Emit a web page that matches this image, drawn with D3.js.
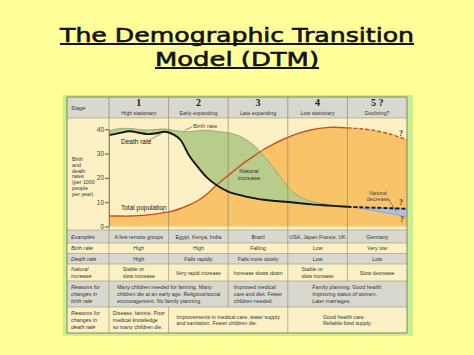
<!DOCTYPE html>
<html>
<head>
<meta charset="utf-8">
<script src="https://cdn.jsdelivr.net/npm/d3@7"></script>
<style>
  body { margin: 0; background: #ffff99; }
  svg { display: block; }
</style>
</head>
<body>
<svg id="dtm" width="474" height="355"></svg>
<script>
// ---- data ----
const titleLines = ["The Demographic Transition", "Model (DTM)"]
const stageNumbers = ["1", "2", "3", "4", "5 ?"]
const stageNames = ["High stationary", "Early expanding", "Late expanding", "Low stationary", "Declining?"]
const rateTicks = [0, 10, 20, 30, 40]
const axisLabel = ["Birth", "and", "death", "rates", "(per 1000", "people", "per year)"]

// position along the model, in stages (0 = start of stage 1, 5 = end of stage 5)
const stagePos = [0, 0.15, 0.35, 0.5, 0.65, 0.8, 0.95, 1.1, 1.2, 1.35, 1.5, 1.65, 1.8, 2.0, 2.15,
  2.3, 2.45, 2.6, 2.75, 2.9, 3.05, 3.2, 3.4, 3.7, 4.0, 4.2, 4.5, 4.75, 5.0]
const birthRate = [39.4, 40.2, 40.4, 39.9, 39.7, 40.0, 40.1, 39.5, 39.2, 39.0, 39.4, 39.6, 39.1, 38.6, 37.6,
  35.8, 33.0, 29.0, 24.5, 19.5, 15.0, 12.2, 10.3, 9.0, 8.2, 7.6, 6.3, 5.2, 4.0]
const deathRate = [37.6, 38.3, 39.2, 38.6, 38.0, 38.4, 39.0, 37.6, 35.6, 29.0, 24.2, 20.0, 17.1, 14.4, 13.2,
  12.3, 11.6, 11.0, 10.6, 10.3, 10.0, 9.6, 9.1, 8.6, 8.1, 7.9, 7.7, 7.5, 7.3]
// total population drawn against the same vertical scale
const populationIndex = [4.3, 4.3, 4.3, 4.5, 4.8, 5.2, 5.8, 6.6, 7.4, 8.9, 10.8, 13.5, 17.0, 21.0, 24.0,
  26.8, 29.3, 31.8, 33.8, 35.6, 37.2, 38.5, 39.8, 40.8, 40.6, 40.3, 39.3, 37.8, 35.6]
const projectedFrom = 4.0 // stage 5 is dashed (uncertain)

const rowLabels = [
  ["Examples"], ["Birth rate"], ["Death rate"], ["Natural", "increase"],
  ["Reasons for", "changes in", "birth rate"], ["Reasons for", "changes in", "death rate"]
]
const rowCells = [
  [{ span: 1, lines: ["A few remote groups"] }, { span: 1, lines: ["Egypt, Kenya, India"] },
   { span: 1, lines: ["Brazil"] }, { span: 1, lines: ["USA, Japan France, UK"] }, { span: 1, lines: ["Germany"] }],
  [{ span: 1, lines: ["High"] }, { span: 1, lines: ["High"] }, { span: 1, lines: ["Falling"] },
   { span: 1, lines: ["Low"] }, { span: 1, lines: ["Very low"] }],
  [{ span: 1, lines: ["High"] }, { span: 1, lines: ["Falls rapidly"] }, { span: 1, lines: ["Falls more slowly"] },
   { span: 1, lines: ["Low"] }, { span: 1, lines: ["Low"] }],
  [{ span: 1, lines: ["Stable or", "slow increase"] }, { span: 1, lines: ["Very rapid increase"] },
   { span: 1, lines: ["Increase slows down"] }, { span: 1, lines: ["Stable or", "slow increase"] },
   { span: 1, lines: ["Slow decrease"] }],
  [{ span: 2, lines: ["Many children needed for farming. Many", "children die at an early age. Religious/social", "encouragement. No family planning."] },
   { span: 1, lines: ["Improved medical", "care and diet. Fewer", "children needed."] },
   { span: 2, lines: ["Family planning. Good health.", "Improving status of women.", "Later marriages."] }],
  [{ span: 1, lines: ["Disease, famine. Poor", "medical knowledge", "so many children die."] },
   { span: 2, lines: ["Improvements in medical care, water supply", "and sanitation. Fewer children die."] },
   { span: 2, lines: ["Good health care.", "Reliable food supply."] }]
]

// ---- layout ----
const svg = d3.select("#dtm")
const FONT = "'Liberation Sans', Arial, sans-serif"
const TABLE = { left: 67, labelRight: 109, right: 407, top: 97, headBottom: 118, chartBottom: 230 }
const ROW_EDGES = [230, 243, 253.5, 264, 281, 307, 333]
const GRAY = "#d8d8cf", CREAM = "#fbf1c4"
const rowFill = [GRAY, CREAM, GRAY, CREAM, GRAY, CREAM]

const x = d3.scaleLinear().domain([0, 5]).range([TABLE.labelRight, TABLE.right])
const y = d3.scaleLinear().domain([0, 40]).range([226.5, 129.3])

// title (underlined, two lines)
const titleWidths = [354, 164]
titleLines.forEach((t, i) => {
  const ty = 41.5 + i * 24
  svg.append("text")
    .attr("x", 237).attr("y", ty)
    .attr("text-anchor", "middle")
    .style("font-family", "'DejaVu Sans', sans-serif")
    .style("font-size", "20px")
    .attr("textLength", titleWidths[i])
    .attr("lengthAdjust", "spacingAndGlyphs")
    .attr("fill", "#111")
    .attr("stroke", "#111")
    .attr("stroke-width", 0.6)
    .text(t)
  svg.append("line")
    .attr("x1", 237 - titleWidths[i] / 2).attr("x2", 237 + titleWidths[i] / 2)
    .attr("y1", ty + 2.5).attr("y2", ty + 2.5)
    .attr("stroke", "#111").attr("stroke-width", 1.8)
})

// green frame behind the figure
svg.append("rect").attr("x", 63).attr("y", 95).attr("width", 350).attr("height", 241).attr("fill", "#c9ef8e")

// header row
svg.append("rect").attr("x", TABLE.left).attr("y", TABLE.top)
  .attr("width", TABLE.right - TABLE.left).attr("height", TABLE.headBottom - TABLE.top).attr("fill", GRAY)
svg.append("text").attr("x", 71).attr("y", 110)
  .style("font-family", FONT).style("font-size", "5.5px").style("font-style", "italic")
  .attr("fill", "#333").text("Stage")
stageNumbers.forEach((n, i) => {
  const cx = x(i + 0.5)
  svg.append("text").attr("x", cx).attr("y", 106).attr("text-anchor", "middle")
    .style("font-family", "'Liberation Serif', serif").style("font-weight", "bold").style("font-size", "10px")
    .attr("fill", "#222").text(n)
  svg.append("text").attr("x", cx).attr("y", 114.5).attr("text-anchor", "middle")
    .style("font-family", FONT).style("font-size", "5.3px").attr("fill", "#333").text(stageNames[i])
})

// chart background
svg.append("rect").attr("x", TABLE.left).attr("y", TABLE.headBottom)
  .attr("width", TABLE.right - TABLE.left).attr("height", TABLE.chartBottom - TABLE.headBottom).attr("fill", CREAM)

const pts = stagePos.map((s, i) => ({ s, b: birthRate[i], d: deathRate[i], p: populationIndex[i] }))
const cut = stagePos.indexOf(projectedFrom)
const curve = d3.curveCatmullRom.alpha(0.5)

// orange population fill
svg.append("path")
  .attr("d", d3.area().curve(curve).x(d => x(d.s)).y0(y(0)).y1(d => y(d.p))(pts))
  .attr("fill", "#f9c469")

// green: natural increase
svg.append("path")
  .attr("d", d3.area().curve(curve).x(d => x(d.s)).y0(d => y(d.d)).y1(d => y(d.b))(pts.slice(0, cut + 1)))
  .attr("fill", "#b8cc8b")
// blue: natural decrease
svg.append("path")
  .attr("d", d3.area().curve(curve).x(d => x(d.s)).y0(d => y(d.b)).y1(d => y(d.d))(pts.slice(cut)))
  .attr("fill", "#a9c3e6")

const line = key => d3.line().curve(curve).x(d => x(d.s)).y(d => y(d[key]))

// birth rate
svg.append("path").attr("d", line("b")(pts.slice(0, cut + 1)))
  .attr("fill", "none").attr("stroke", "#8ea676").attr("stroke-width", 0.9)
svg.append("path").attr("d", line("b")(pts.slice(cut)))
  .attr("fill", "none").attr("stroke", "#7d9cc8").attr("stroke-width", 0.8)

// stage dividers in the chart
d3.range(1, 5).forEach(i => {
  svg.append("line").attr("x1", x(i)).attr("x2", x(i))
    .attr("y1", TABLE.top).attr("y2", TABLE.chartBottom)
    .attr("stroke", "#8f876a").attr("stroke-width", 0.7)
})

// population line
svg.append("path").attr("d", line("p")(pts.slice(0, cut + 1)))
  .attr("fill", "none").attr("stroke", "#c9501d").attr("stroke-width", 1.4)
svg.append("path").attr("d", line("p")(pts.slice(cut)))
  .attr("fill", "none").attr("stroke", "#c9501d").attr("stroke-width", 1.4).attr("stroke-dasharray", "4,2")

// death rate line
svg.append("path").attr("d", line("d")(pts.slice(0, cut + 1)))
  .attr("fill", "none").attr("stroke", "#151515").attr("stroke-width", 1.9)
svg.append("path").attr("d", line("d")(pts.slice(cut)))
  .attr("fill", "none").attr("stroke", "#151515").attr("stroke-width", 1.9).attr("stroke-dasharray", "4,2")

// y axis
const axis = svg.append("g").attr("transform", `translate(${TABLE.labelRight},0)`)
  .call(d3.axisLeft(y).tickValues(rateTicks).tickSize(4).tickPadding(1).tickSizeOuter(0))
axis.select(".domain").attr("stroke", "#6e6650").attr("stroke-width", 0.8)
axis.selectAll(".tick line").attr("stroke", "#555")
axis.selectAll(".tick text").style("font-family", FONT).style("font-size", "6.5px").attr("fill", "#444")
svg.append("line").attr("x1", TABLE.labelRight).attr("x2", TABLE.labelRight)
  .attr("y1", TABLE.top).attr("y2", TABLE.chartBottom).attr("stroke", "#8f876a").attr("stroke-width", 0.7)

axisLabel.forEach((t, i) => {
  svg.append("text").attr("x", 72).attr("y", 161 + i * 5.8)
    .style("font-family", FONT).style("font-size", "5.3px").attr("fill", "#333").text(t)
})

// curve labels
const label = (tx, ty, t, size, color) => svg.append("text").attr("x", tx).attr("y", ty)
  .style("font-family", FONT).style("font-size", size).attr("fill", color).text(t)
const leader = (x1, y1, x2, y2) => svg.append("line").attr("x1", x1).attr("y1", y1).attr("x2", x2).attr("y2", y2)
  .attr("stroke", "#333").attr("stroke-width", 0.5)

label(193, 128, "Birth rate", "6px", "#444")
leader(192, 127, x(1.27), y(39.2) - 1)
label(121, 144, "Death rate", "6.5px", "#111")
leader(149, 140, x(0.8) + 4, y(38.4) + 1)
label(121, 210, "Total population", "6.5px", "#222")
leader(162, 208, x(0.93), y(5.6))
label(249, 173, "Natural", "6px", "#333").attr("text-anchor", "middle")
label(249, 180, "increase", "6px", "#333").attr("text-anchor", "middle")
label(378, 195, "Natural", "5.5px", "#444").attr("text-anchor", "middle")
label(378, 201, "decrease", "5.5px", "#444").attr("text-anchor", "middle")
leader(389, 200, x(4.82), y(6.2))

const question = (qx, qy) => svg.append("text").attr("x", qx).attr("y", qy).attr("text-anchor", "middle")
  .style("font-family", "'Liberation Serif', serif").style("font-weight", "bold").style("font-size", "8px")
  .attr("fill", "#4a3c12").text("?")
question(401, 136)
question(401, 205)
question(402, 222)

// table rows
rowLabels.forEach((lab, r) => {
  const top = ROW_EDGES[r], bottom = ROW_EDGES[r + 1], mid = (top + bottom) / 2
  svg.append("rect").attr("x", TABLE.left).attr("y", top)
    .attr("width", TABLE.right - TABLE.left).attr("height", bottom - top).attr("fill", rowFill[r])
  svg.append("line").attr("x1", TABLE.left).attr("x2", TABLE.right).attr("y1", top).attr("y2", top)
    .attr("stroke", "#9c9580").attr("stroke-width", 0.6)

  const lh = 6.6
  lab.forEach((t, k) => {
    svg.append("text").attr("x", 71).attr("y", mid - (lab.length - 1) * lh / 2 + k * lh + 2)
      .style("font-family", FONT).style("font-size", "5.4px").style("font-style", "italic")
      .attr("fill", "#333").text(t)
  })

  let col = 0
  rowCells[r].forEach(cell => {
    const x0 = x(col), x1 = x(col + cell.span)
    if (col > 0) {
      svg.append("line").attr("x1", x0).attr("x2", x0).attr("y1", top).attr("y2", bottom)
        .attr("stroke", "#8f876a").attr("stroke-width", 0.6)
    }
    const g = svg.append("g")
    const texts = cell.lines.map((t, k) => g.append("text")
      .attr("y", mid - (cell.lines.length - 1) * lh / 2 + k * lh + 2)
      .style("font-family", FONT).style("font-size", "5.3px").attr("fill", "#333").text(t))
    const w = d3.max(texts, t => t.node().getComputedTextLength())
    texts.forEach(t => t.attr("x", (x0 + x1) / 2 - w / 2))
    col += cell.span
  })
  svg.append("line").attr("x1", x(0)).attr("x2", x(0)).attr("y1", top).attr("y2", bottom)
    .attr("stroke", "#8f876a").attr("stroke-width", 0.6)
})

// header/chart separators and outer border
svg.append("line").attr("x1", TABLE.left).attr("x2", TABLE.right)
  .attr("y1", TABLE.headBottom).attr("y2", TABLE.headBottom).attr("stroke", "#9c9580").attr("stroke-width", 0.6)
svg.append("rect").attr("x", TABLE.left).attr("y", TABLE.top)
  .attr("width", TABLE.right - TABLE.left).attr("height", ROW_EDGES[ROW_EDGES.length - 1] - TABLE.top)
  .attr("fill", "none").attr("stroke", "#6f6a58").attr("stroke-width", 0.8)
</script>
</body>
</html>
